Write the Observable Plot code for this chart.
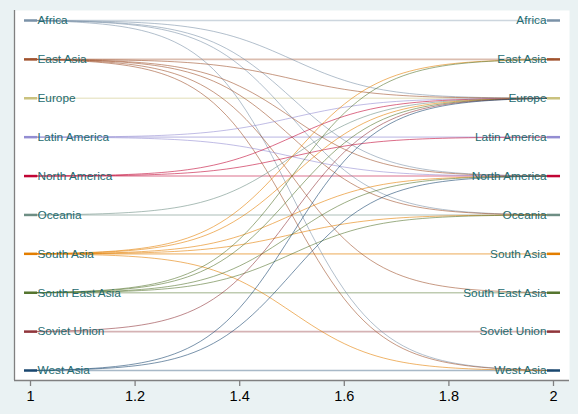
<!DOCTYPE html>
<html>
<head>
<meta charset="utf-8">
<script src="https://cdn.jsdelivr.net/npm/d3@7"></script>
<script src="https://cdn.jsdelivr.net/npm/@observablehq/plot@0.6"></script>
<style>
  body { margin: 0; background: #eaf2f3; }
</style>
</head>
<body>
<div id="chart"></div>
<script>
// regiones y colores (orden de arriba hacia abajo)
const regions = ["Africa", "East Asia", "Europe", "Latin America", "North America",
  "Oceania", "South Asia", "South East Asia", "Soviet Union", "West Asia"]
const colors = ["#7b92a8", "#a0522d", "#cac27e", "#938dd2", "#c10534",
  "#6e8e84", "#e37e00", "#55752f", "#90353b", "#1a476f"]

// flujos origen -> destino
const flowFrom = [
  "Africa", "Africa", "Africa", "Africa",
  "East Asia", "East Asia", "East Asia", "East Asia", "East Asia",
  "Latin America", "Latin America",
  "North America", "North America",
  "Oceania",
  "South Asia", "South Asia", "South Asia", "South Asia", "South Asia",
  "South East Asia", "South East Asia", "South East Asia", "South East Asia",
  "Soviet Union",
  "West Asia", "West Asia"
]
const flowTo = [
  "Europe", "North America", "Oceania", "West Asia",
  "Europe", "North America", "Oceania", "South East Asia", "West Asia",
  "Europe", "North America",
  "Latin America", "Europe",
  "Europe",
  "East Asia", "Europe", "North America", "Oceania", "West Asia",
  "East Asia", "Europe", "North America", "Oceania",
  "Europe",
  "Europe", "North America"
]

const xTicks = [1, 1.2, 1.4, 1.6, 1.8, 2]
const xDomain = [0.9694, 2.0306]
const yDomain = [0.743, 10.257]

// curva logistica normalizada entre x=1 y x=2
const k = 12
const sig = x => 1 / (1 + Math.exp(-k * (x - 1.5)))
const s = x => (sig(x) - sig(1)) / (sig(2) - sig(1))

const idx = name => regions.indexOf(name) + 1

let curves = []
flowFrom.forEach((f, i) => {
  const a = idx(f), b = idx(flowTo[i])
  for (let j = 0; j <= 80; j++) {
    const x = 1 + j / 80
    curves.push({id: i, origin: f, x: x, y: a + (b - a) * s(x)})
  }
})

let flats = []
regions.forEach(r => {
  flats.push({origin: r, x: 1, y: idx(r)})
  flats.push({origin: r, x: 2, y: idx(r)})
})

let ends = []
regions.forEach(r => {
  ends.push({region: r, side: 1, y: idx(r)})
  ends.push({region: r, side: 2, y: idx(r)})
})

// simbolo: raya horizontal
const dash = {
  draw(ctx, size) {
    const w = Math.sqrt(size / Math.PI)
    ctx.moveTo(-w, 0)
    ctx.lineTo(w, 0)
  }
}

let chart = Plot.plot({
  width: 578,
  height: 414,
  marginLeft: 14,
  marginRight: 9,
  marginTop: 10,
  marginBottom: 34,
  style: {background: "#eaf2f3", fontFamily: "Liberation Sans, Arial, sans-serif"},
  x: {domain: xDomain, axis: null},
  y: {domain: yDomain, reverse: true, axis: null},
  color: {domain: regions, range: colors},
  marks: [
    Plot.frame({fill: "white", stroke: null}),
    Plot.line(flats, {x: "x", y: "y", z: "origin", stroke: "origin", strokeWidth: 1.6, strokeOpacity: 0.38}),
    Plot.line(curves, {x: "x", y: "y", z: "id", stroke: "origin", strokeWidth: 0.9, strokeOpacity: 0.65}),
    Plot.dot(ends, {x: "side", y: "y", stroke: "region", fill: "none", symbol: dash, r: 6.5, strokeWidth: 2.5}),
    Plot.text(regions, {x: () => 1, y: d => idx(d), text: d => d, textAnchor: "start", dx: 7,
      fill: "#246b70", fontSize: 11.8}),
    Plot.text(regions, {x: () => 2, y: d => idx(d), text: d => d, textAnchor: "end", dx: -7,
      fill: "#246b70", fontSize: 11.8}),
    Plot.ruleX([xDomain[0]], {stroke: "#808080", strokeWidth: 1.3}),
    Plot.ruleY([yDomain[1]], {stroke: "#808080", strokeWidth: 1.3}),
    Plot.axisX({ticks: xTicks, tickFormat: d => String(d), tickSize: 6, tickPadding: 4,
      stroke: "#808080", fill: "black", fontSize: 14.5, strokeWidth: 1.3})
  ]
})
d3.select('#chart').append(() => chart)
</script>
</body>
</html>
